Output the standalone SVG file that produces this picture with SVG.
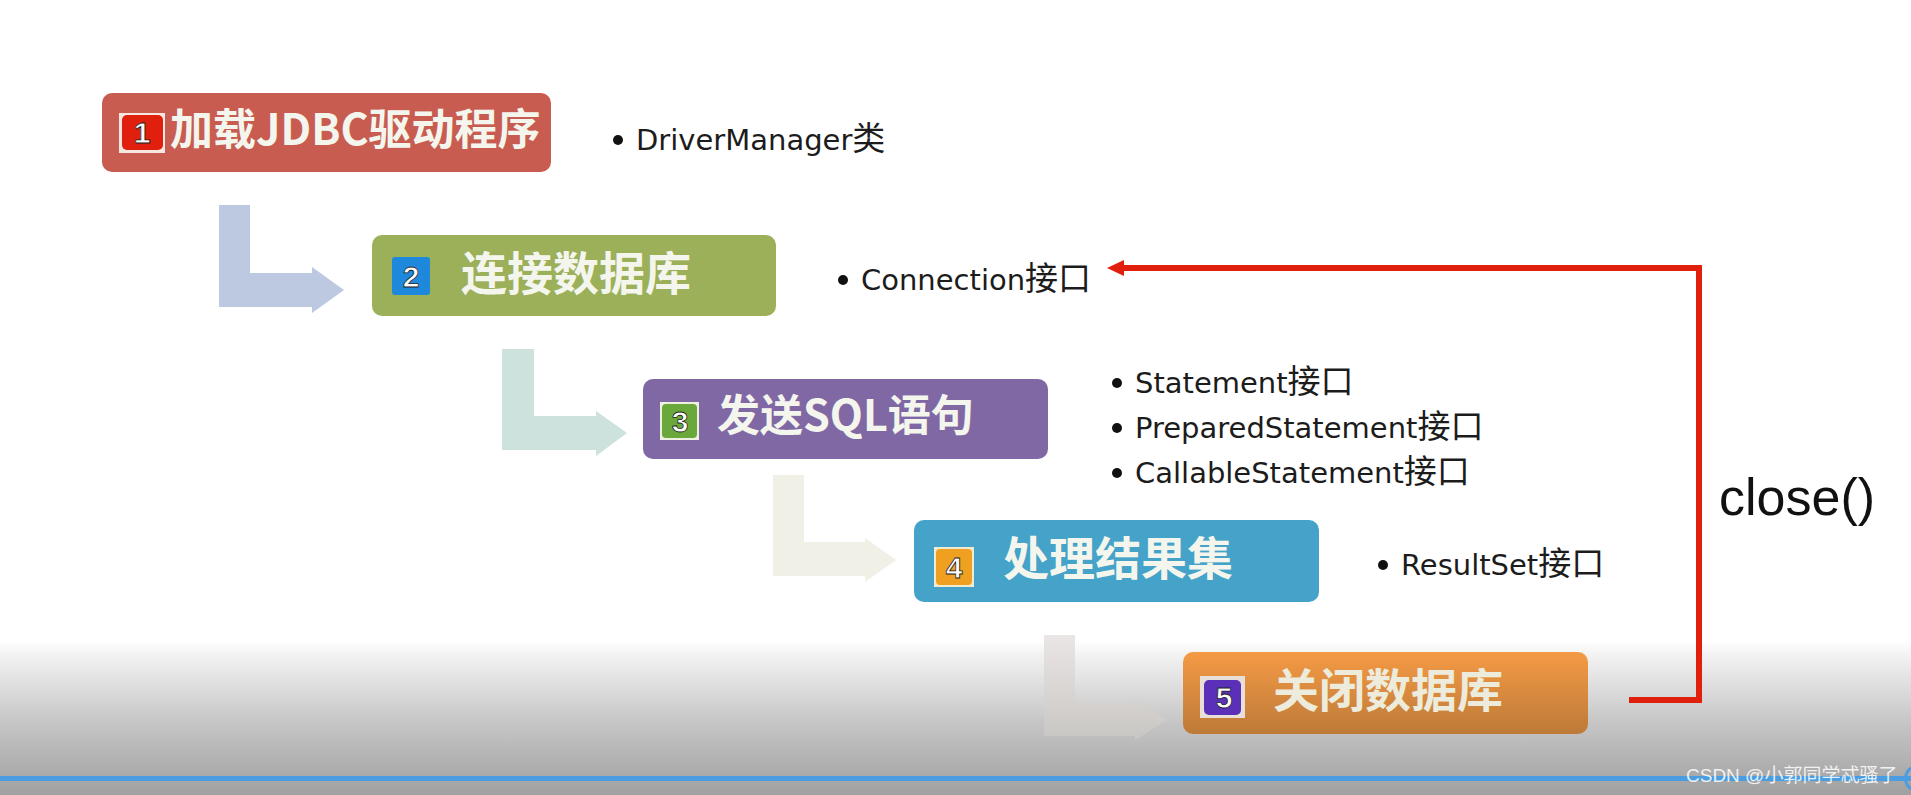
<svg xmlns="http://www.w3.org/2000/svg" width="1911" height="795" viewBox="0 0 1911 795">
<style>
.t{font-family:"Noto Sans CJK SC","Liberation Sans",sans-serif;font-size:46px;font-weight:700;fill:#f4f6ee}
.s{font-size:43px}
.b{font-family:"DejaVu Sans","Noto Sans CJK SC",sans-serif;font-size:29px;fill:#1c1c1c}
.c{font-family:"Noto Sans CJK SC",sans-serif;font-size:33px}
.d{fill:#111}
.n{font-family:"Liberation Sans",sans-serif;font-weight:700;font-size:30px;text-anchor:middle;fill:#fff;stroke:#222;stroke-width:.8}
</style>
<defs>
<linearGradient id="bg" x1="0" y1="0" x2="0" y2="1"><stop offset="0" stop-color="#fff"/><stop offset=".1" stop-color="#f2f2f2"/><stop offset=".55" stop-color="#c4c4c4"/><stop offset="1" stop-color="#a0a0a0"/></linearGradient>
<linearGradient id="o" x1="0" y1="0" x2="0" y2="1"><stop offset="0" stop-color="#f49a45"/><stop offset="1" stop-color="#bd7a38"/></linearGradient>
<linearGradient id="a4" x1="0" y1="0" x2="0" y2="1"><stop offset="0" stop-color="#ebe6e6"/><stop offset="1" stop-color="#c8c6c2"/></linearGradient>
</defs>
<rect width="1911" height="795" fill="#fff"/>
<rect y="640" width="1911" height="155" fill="url(#bg)"/>
<rect y="776" width="1911" height="5" fill="#4a9de0"/>
<path d="M1911 768a13 13 0 0 0 0 21" fill="none" stroke="#4a9de0" stroke-width="3"/>
<g id="connectors">
<path d="M219 205H250V273H312V267L344 290L312 313V307H219Z" fill="#bcc9e0"/>
<path d="M502 349H534V416H596V411L627 433L596 456V450H502Z" fill="#cde2dc"/>
<path d="M773 475H804V542H865V538L896 560L865 582V576H773Z" fill="#f0f0e6"/>
<path d="M1044 635H1075V703H1135V697L1167 720L1135 740V736H1044Z" fill="url(#a4)"/>
<path d="M1629 700H1699V268H1115" fill="none" stroke="#e0200c" stroke-width="6"/>
<path d="M1107 268L1124 260V276Z" fill="#e0200c"/>
</g>
<g id="node1"><rect x="102" y="93" width="449" height="79" rx="10" fill="#c85c50"/>
<rect x="119" y="113" width="46" height="40" fill="#f6e8e0"/><rect x="122" y="115" width="41" height="35" rx="5" fill="#e0200c"/><text class="n" x="142" y="143">1</text>
<text class="t s" x="170" y="145">加载JDBC驱动程序</text></g>
<g id="node2"><rect x="372" y="235" width="404" height="81" rx="10" fill="#9bb059"/>
<rect x="392" y="257" width="38" height="38" rx="3" fill="#1e88dc"/><text class="n" x="411" y="287">2</text>
<text class="t" x="461" y="290">连接数据库</text></g>
<g id="node3"><rect x="643" y="379" width="405" height="80" rx="10" fill="#8068a4"/>
<rect x="660" y="402" width="39" height="38" fill="#eef0e0"/><rect x="662" y="404" width="35" height="34" rx="4" fill="#6aa83c"/><text class="n" x="680" y="432">3</text>
<text class="t s" x="717" y="431">发送SQL语句</text></g>
<g id="node4"><rect x="914" y="520" width="405" height="82" rx="10" fill="#45a2c8"/>
<rect x="934" y="547" width="40" height="40" fill="#f0ead0"/><rect x="936" y="549" width="36" height="36" rx="4" fill="#f0a020"/><text class="n" x="954" y="578">4</text>
<text class="t" x="1003" y="575">处理结果集</text></g>
<g id="node5"><rect x="1183" y="652" width="405" height="82" rx="10" fill="url(#o)"/>
<rect x="1200" y="676" width="45" height="42" fill="#e8e0d8"/><rect x="1204" y="680" width="37" height="35" rx="5" fill="#5a30b8"/><text class="n" x="1224" y="708">5</text>
<text class="t" x="1273" y="707" style="fill:#ecebdc">关闭数据库</text></g>
<g id="labels">
<circle class="d" cx="618" cy="140" r="5"/><text class="b" x="636" y="150">DriverManager<tspan class="c">类</tspan></text>
<circle class="d" cx="843" cy="280" r="5"/><text class="b" x="861" y="290">Connection<tspan class="c">接口</tspan></text>
<circle class="d" cx="1117" cy="383" r="5"/><text class="b" x="1135" y="393">Statement<tspan class="c">接口</tspan></text>
<circle class="d" cx="1117" cy="428" r="5"/><text class="b" x="1135" y="438">PreparedStatement<tspan class="c">接口</tspan></text>
<circle class="d" cx="1117" cy="473" r="5"/><text class="b" x="1135" y="483">CallableStatement<tspan class="c">接口</tspan></text>
<circle class="d" cx="1383" cy="565" r="5"/><text class="b" x="1401" y="575">ResultSet<tspan class="c">接口</tspan></text>
<text x="1719" y="515" font-family="Liberation Sans, sans-serif" font-size="52" fill="#111">close()</text>
<text x="1686" y="782" font-family="Liberation Sans, Noto Sans CJK SC, sans-serif" font-size="19" fill="#fff" fill-opacity=".85">CSDN @小郭同学忒骚了</text>
</g>
</svg>
